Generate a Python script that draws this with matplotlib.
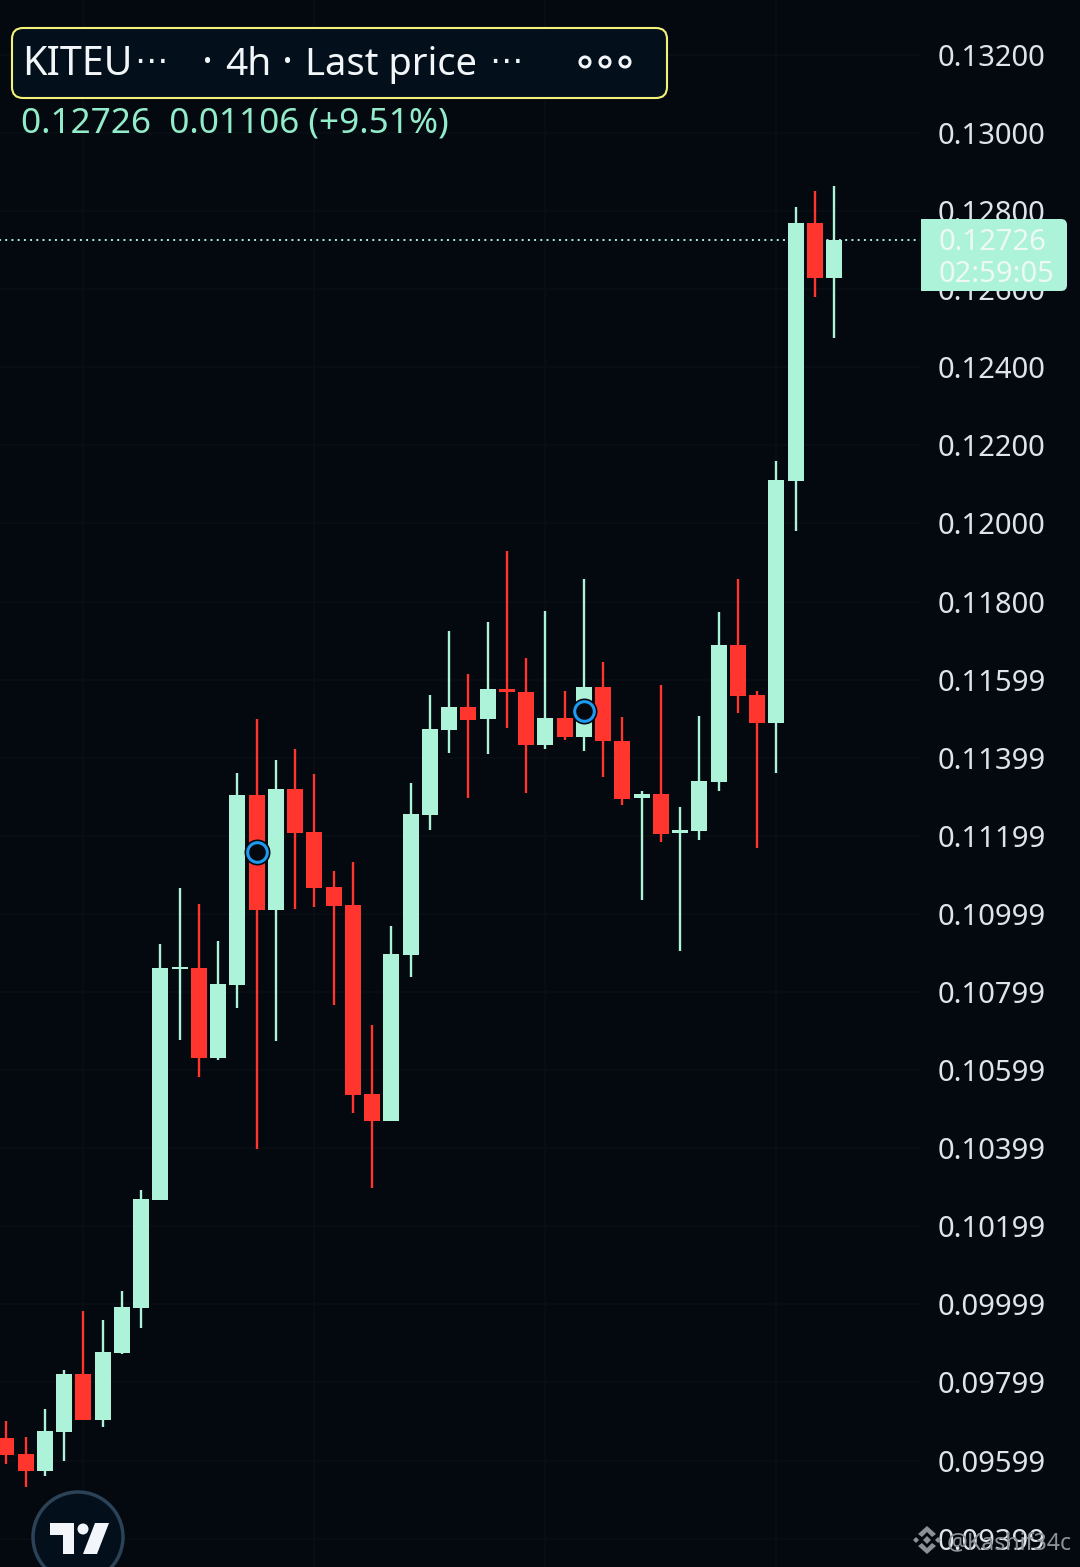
import matplotlib
matplotlib.use("Agg")
import matplotlib.pyplot as plt
from matplotlib.patches import FancyBboxPatch, Circle, Polygon, Rectangle
import numpy as np

# цены свечей (KITEU, 4h)
opens = [0.09658, 0.09617, 0.09574, 0.09674, 0.09822, 0.09705, 0.09876, 0.09991, 0.10268, 0.10859, 0.10862,
         0.10632, 0.10818, 0.11305, 0.11011, 0.11320, 0.11210, 0.11069, 0.11023, 0.10539, 0.10470, 0.10895,
         0.11254, 0.11471, 0.11530, 0.11500, 0.11576, 0.11569, 0.11433, 0.11502, 0.11454, 0.11582, 0.11443,
         0.11297, 0.11308, 0.11208, 0.11213, 0.11338, 0.11689, 0.11561, 0.11489, 0.12109, 0.12770, 0.12629]
closes = [0.09615, 0.09574, 0.09676, 0.09822, 0.09705, 0.09879, 0.09994, 0.10270, 0.10862, 0.10865, 0.10632,
          0.10821, 0.11305, 0.11011, 0.11320, 0.11208, 0.11067, 0.11021, 0.10537, 0.10470, 0.10898, 0.11256,
          0.11474, 0.11530, 0.11497, 0.11576, 0.11569, 0.11433, 0.11502, 0.11454, 0.11582, 0.11443, 0.11295,
          0.11308, 0.11205, 0.11215, 0.11341, 0.11689, 0.11559, 0.11489, 0.12112, 0.12770, 0.12629, 0.12726]
highs = [0.09702, 0.09661, 0.09733, 0.09833, 0.09984, 0.09961, 0.10035, 0.10293, 0.10923, 0.11067, 0.11026,
         0.10931, 0.11361, 0.11500, 0.11395, 0.11423, 0.11359, 0.11110, 0.11133, 0.10716, 0.10970, 0.11336,
         0.11561, 0.11725, 0.11615, 0.11748, 0.11930, 0.11656, 0.11776, 0.11571, 0.11858, 0.11646, 0.11505,
         0.11315, 0.11587, 0.11274, 0.11507, 0.11774, 0.11858, 0.11571, 0.12160, 0.12811, 0.12852, 0.12865]
lows = [0.09592, 0.09533, 0.09561, 0.09600, 0.09705, 0.09687, 0.09874, 0.09940, 0.10268, 0.10678, 0.10583,
        0.10626, 0.10760, 0.10399, 0.10675, 0.11013, 0.11018, 0.10767, 0.10491, 0.10299, 0.10470, 0.10839,
        0.11215, 0.11413, 0.11297, 0.11410, 0.11477, 0.11310, 0.11423, 0.11446, 0.11418, 0.11351, 0.11279,
        0.11036, 0.11185, 0.10906, 0.11190, 0.11315, 0.11515, 0.11169, 0.11361, 0.11981, 0.12580, 0.12475]

# шкала цен и её подписи
tick_prices = [0.132, 0.130, 0.128, 0.126, 0.124, 0.122, 0.120, 0.118, 0.116, 0.114,
               0.112, 0.110, 0.108, 0.106, 0.104, 0.102, 0.100, 0.098, 0.096, 0.094]
tick_labels = ["0.13200", "0.13000", "0.12800", "0.12600", "0.12400", "0.12200", "0.12000",
               "0.11800", "0.11599", "0.11399", "0.11199", "0.10999", "0.10799", "0.10599",
               "0.10399", "0.10199", "0.09999", "0.09799", "0.09599", "0.09399"]
grid_candles = [4, 16, 28, 40]
marker_candles = [13, 30]
marker_prices = [0.11159, 0.11520]
last_price = 0.12726

BG = "#04080f"
GREEN = "#acf3d9"
RED = "#ff352e"
GRID = "#090e15"
LABEL = "#dde4ea"
PANEL = "#03101c"
WHITE = "#f2f6f8"
FONT = "Noto Sans"

plt.rcParams["font.family"] = [FONT, "DejaVu Sans"]

W, H = 1080, 1567
fig = plt.figure(figsize=(W / 100, H / 100), dpi=100, facecolor=BG)
ax = fig.add_axes([0, 0, 1, 1], facecolor=BG)
ax.set_xlim(-0.335, 55.769)
ax.set_ylim(0.093275, 0.133405)
for s in ax.spines.values():
    s.set_visible(False)

opens = np.array(opens)
closes = np.array(closes)
highs = np.array(highs)
lows = np.array(lows)
idx = np.arange(len(opens))
up = closes >= opens
colors = np.where(up, GREEN, RED)

# сетка только до шкалы цен
scale_left = 47.45
ax.hlines(tick_prices, -1, scale_left, color=GRID, lw=1.2, zorder=1)
ax.vlines(grid_candles, 0.09, 0.14, color=GRID, lw=1.2, zorder=1)

ax.hlines(last_price, -1, scale_left, color=GREEN, lw=1.4, linestyles=(0, (1, 2.2)), zorder=1.5)

ax.vlines(idx, lows, highs, color=colors, lw=1.7, zorder=2)
ax.bar(idx, np.abs(closes - opens), bottom=np.minimum(opens, closes), width=0.83, color=colors, lw=0, zorder=2.2)
ax.scatter(marker_candles, marker_prices, s=350, facecolor=BG, lw=0, zorder=2.4)
ax.scatter(marker_candles, marker_prices, s=200, facecolor=BG, edgecolor="#1e9bf0", lw=2.2, zorder=2.45)

ax.yaxis.tick_right()
ax.set_yticks(tick_prices, tick_labels)
ax.set_xticks([])
ax.tick_params(axis="y", length=0, labelsize=21.0, labelcolor=LABEL, pad=-102.2)

# всё остальное рисуем поверх, в пикселях
ov = fig.add_axes([0, 0, 1, 1], facecolor="none")
ov.set_xlim(0, W)
ov.set_ylim(H, 0)
ov.axis("off")

ov.add_patch(FancyBboxPatch((12, 28), 655, 70, boxstyle="round,pad=0,rounding_size=11",
                            fc=PANEL, ec="#f4f27a", lw=1.5))
ov.text(22.5, 75, "KITEU", color=WHITE, fontsize=28.4, va="baseline", ha="left")
ov.text(134, 71, "\u22ef", color=WHITE, fontsize=24, va="baseline", ha="left", family="DejaVu Sans")
ov.text(202, 75, "·", color=WHITE, fontsize=30, va="baseline", ha="left", fontweight="bold")
ov.text(225, 75, "4h", color=WHITE, fontsize=28, va="baseline", ha="left")
ov.text(282, 75, "·", color=WHITE, fontsize=30, va="baseline", ha="left", fontweight="bold")
ov.text(305, 75, "Last price", color=WHITE, fontsize=27.4, va="baseline", ha="left")
ov.text(489, 71, "\u22ef", color=WHITE, fontsize=24, va="baseline", ha="left", family="DejaVu Sans")
for cx in (585, 605, 625):
    ov.add_patch(Circle((cx, 62), 5, fc="none", ec=WHITE, lw=2.2))

ov.text(21, 133, "0.12726  0.01106 (+9.51%)", color="#93ecc9", fontsize=25.3, va="baseline", ha="left")

# плашка последней цены
ov.add_patch(Rectangle((921, 219), 20, 72, fc=GREEN, lw=0))
ov.add_patch(FancyBboxPatch((930, 219), 137, 72, boxstyle="round,pad=0,rounding_size=6", fc=GREEN, lw=0))
ov.text(939, 243, "0.12726", color="#eef9f6", fontsize=21.0, va="center", ha="left")
ov.text(939, 274, "02:59:05", color="#eef9f6", fontsize=21.0, va="center", ha="left")

# значок TradingView
ov.add_patch(Circle((78, 1537), 45, fc=PANEL, ec="#2b4257", lw=2.5))
ov.add_patch(Polygon([(50, 1523), (74, 1523), (74, 1554), (63, 1554), (63, 1535), (50, 1535)], fc="#f2f5f9", lw=0))
ov.add_patch(Circle((83, 1529), 5.5, fc="#f2f5f9", lw=0))
ov.add_patch(Polygon([(95, 1523), (109, 1523), (97, 1554), (83, 1554)], fc="#f2f5f9", lw=0))

# водяной знак
wm = "#8d9195"
ov.add_patch(Polygon([(918, 1534), (927, 1526), (936, 1534), (932, 1537), (927, 1532), (922, 1537)], fc=wm, lw=0))
ov.add_patch(Polygon([(918, 1546), (927, 1554), (936, 1546), (932, 1543), (927, 1548), (922, 1543)], fc=wm, lw=0))
ov.add_patch(Polygon([(927, 1536), (931, 1540), (927, 1544), (923, 1540)], fc=wm, lw=0))
ov.add_patch(Polygon([(913, 1540), (916, 1537), (919, 1540), (916, 1543)], fc=wm, lw=0))
ov.add_patch(Polygon([(935, 1540), (938, 1537), (941, 1540), (938, 1543)], fc=wm, lw=0))
ov.text(947, 1543, "@Kashif34c", color=wm, fontsize=16.7, va="center", ha="left")

fig.savefig("out.png", dpi=100, facecolor=BG)
